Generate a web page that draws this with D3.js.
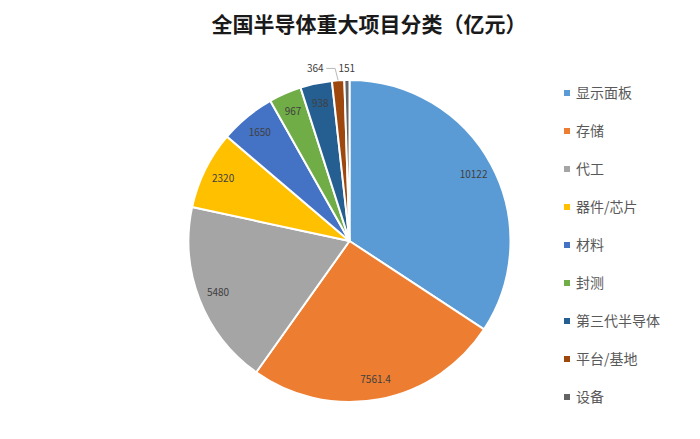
<!DOCTYPE html>
<html>
<head>
<meta charset="utf-8">
<script src="https://cdn.jsdelivr.net/npm/d3@7"></script>
<style>
  body { margin: 0; background: #fff; }
  svg { display: block; font-family: "Noto Sans CJK SC", "Noto Sans", sans-serif; }
</style>
</head>
<body>
<div id="chart"></div>
<script>
// data
const categories = ["显示面板", "存储", "代工", "器件/芯片", "材料", "封测", "第三代半导体", "平台/基地", "设备"];
const values = [10122, 7561.4, 5480, 2320, 1650, 967, 938, 364, 151];
const labels = ["10122", "7561.4", "5480", "2320", "1650", "967", "938", "364", "151"];
const colors = ["#5B9BD5", "#ED7D31", "#A5A5A5", "#FFC000", "#4472C4", "#70AD47", "#255E91", "#9E480E", "#636363"];

const width = 700, height = 439;
const cx = 349.5, cy = 241, r = 161;

const svg = d3.select("#chart").append("svg")
  .attr("width", width)
  .attr("height", height);

svg.append("text")
  .attr("x", 369).attr("y", 32)
  .attr("text-anchor", "middle")
  .attr("font-size", 21)
  .attr("font-weight", "bold")
  .attr("fill", "#1a1a1a")
  .text("全国半导体重大项目分类（亿元）");

const data = categories.map((c, i) => ({ name: c, value: values[i], label: labels[i], color: colors[i] }));

const pie = d3.pie().value(d => d.value).sort(null);
const arcs = pie(data);
const arc = d3.arc().innerRadius(0).outerRadius(r);
const labelArc = d3.arc().innerRadius(141).outerRadius(141);
const outArc = d3.arc().innerRadius(r + 12).outerRadius(r + 12);

const g = svg.append("g").attr("transform", `translate(${cx},${cy})`);

g.selectAll("path")
  .data(arcs)
  .join("path")
  .attr("d", arc)
  .attr("fill", d => d.data.color)
  .attr("stroke", "#fff")
  .attr("stroke-width", 2)
  .attr("stroke-linejoin", "round");

// inside labels for big slices
const inside = arcs.filter(d => d.data.value > 500);
g.selectAll("text.in")
  .data(inside)
  .join("text")
  .attr("class", "in")
  .attr("transform", d => `translate(${labelArc.centroid(d)})`)
  .attr("text-anchor", "middle")
  .attr("dy", "0.35em")
  .attr("font-size", 10)
  .attr("fill", "#404040")
  .text(d => d.data.label);

// outside labels for the two thin slices
const outside = arcs.filter(d => d.data.value <= 500);
outside.forEach(d => {
  const [x, y] = outArc.centroid(d);
  const shift = d.data.value > 200 ? -22 : 0;
  g.append("text")
    .attr("x", x + shift).attr("y", y)
    .attr("text-anchor", "middle")
    .attr("dy", "0.35em")
    .attr("font-size", 10)
    .attr("fill", "#404040")
    .text(d.data.label);
  if (shift) {
    const edge = d3.arc().innerRadius(r).outerRadius(r).centroid(d);
    g.append("polyline")
      .attr("points", [[x + shift + 11, y], [edge[0] - 3, y], edge].map(p => p.join(",")).join(" "))
      .attr("fill", "none")
      .attr("stroke", "#a6a6a6")
      .attr("stroke-width", 0.8);
  }
});

// legend
const legend = svg.append("g");
const ly = d3.scalePoint().domain(categories).range([93, 397]);
const items = legend.selectAll("g")
  .data(data)
  .join("g")
  .attr("transform", d => `translate(567,${ly(d.name)})`);
items.append("rect")
  .attr("x", -3).attr("y", -3)
  .attr("width", 6).attr("height", 6)
  .attr("fill", d => d.color);
items.append("text")
  .attr("x", 9)
  .attr("dy", "0.36em")
  .attr("font-size", 14)
  .attr("fill", "#595959")
  .text(d => d.name);
</script>
</body>
</html>
